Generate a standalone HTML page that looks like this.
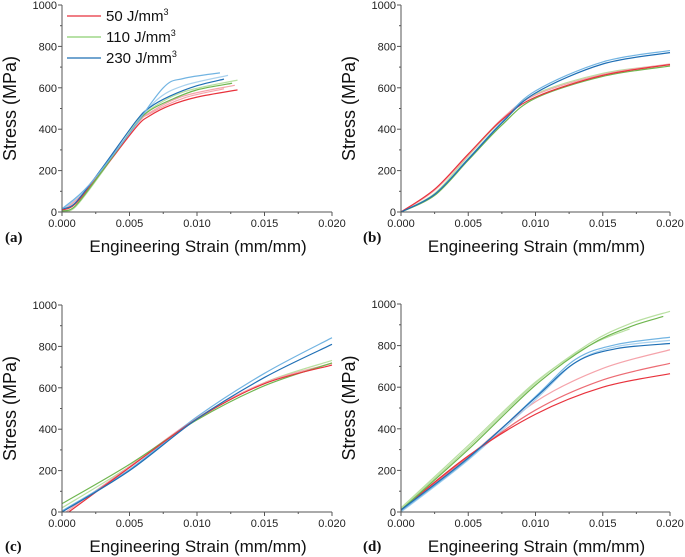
<!DOCTYPE html>
<html><head><meta charset="utf-8"><style>
html,body{margin:0;padding:0;background:#fff;width:685px;height:557px;overflow:hidden}
svg{display:block;font-family:"Liberation Sans",sans-serif}
</style></head><body>
<svg id="fig" width="685" height="557"></svg>
<script>
// ---- data (strain, stress MPa) ----
const xTicks=[0,0.005,0.010,0.015,0.020];
const xTickLabels=["0.000","0.005","0.010","0.015","0.020"];
const yTicks=[0,200,400,600,800,1000];
const yTickLabels=["0","200","400","600","800","1000"];
const legendLabels=["50 J/mm","110 J/mm","230 J/mm"];
const panelLabels=["(a)","(b)","(c)","(d)"];
// panel a
const aRed1=[[0,10],[0.001,40],[0.003,200],[0.0055,410],[0.0065,465],[0.008,515],[0.010,555],[0.013,590]];
const aRed2=[[0,0],[0.002,120],[0.0055,420],[0.0065,480],[0.009,560],[0.0128,612]];
const aRed3=[[0,5],[0.002,130],[0.0055,420],[0.0065,475],[0.009,550],[0.012,595]];
const aGreen1=[[0,5],[0.001,30],[0.003,200],[0.0055,425],[0.0065,490],[0.008,540],[0.010,590],[0.0126,622]];
const aGreen2=[[0,0],[0.001,25],[0.003,195],[0.0055,430],[0.0065,495],[0.009,580],[0.013,637]];
const aBlue1=[[0,15],[0.001,45],[0.003,215],[0.0055,440],[0.0065,505],[0.008,560],[0.010,610],[0.012,642]];
const aBlue2=[[0,15],[0.002,130],[0.005,380],[0.0075,600],[0.009,645],[0.0117,672]];
const aBlue3=[[0,10],[0.002,125],[0.005,380],[0.007,540],[0.009,610],[0.0123,660]];
// panel b
const bRed1=[[0,0],[0.0025,110],[0.005,280],[0.0075,445],[0.010,555],[0.015,660],[0.020,712]];
const bRed2=[[0,0],[0.0025,105],[0.005,275],[0.0075,450],[0.010,565],[0.015,665],[0.020,715]];
const bGreen1=[[0,0],[0.0025,80],[0.005,250],[0.0075,420],[0.010,550],[0.015,655],[0.020,705]];
const bGreen2=[[0,0],[0.0025,90],[0.005,270],[0.0075,445],[0.010,570],[0.015,670],[0.020,712]];
const bBlue1=[[0,0],[0.0025,85],[0.005,255],[0.0075,430],[0.010,575],[0.015,715],[0.020,770]];
const bBlue2=[[0,0],[0.0025,85],[0.005,258],[0.0075,435],[0.010,585],[0.015,725],[0.020,780]];
// panel c
const cRed1=[[0.0005,0],[0.005,215],[0.010,450],[0.015,620],[0.020,710]];
const cRed2=[[0.0003,0],[0.005,220],[0.010,455],[0.015,625],[0.020,718]];
const cGreen1=[[0,40],[0.005,230],[0.010,445],[0.015,610],[0.020,720]];
const cGreen2=[[0,20],[0.005,220],[0.010,450],[0.015,625],[0.020,732]];
const cBlue1=[[0,0],[0.005,200],[0.010,450],[0.015,650],[0.020,810]];
const cBlue2=[[0,5],[0.005,205],[0.010,460],[0.015,670],[0.020,842]];
// panel d
const dRed1=[[0,10],[0.005,270],[0.010,470],[0.015,600],[0.020,665]];
const dRed2=[[0,10],[0.005,265],[0.010,490],[0.015,635],[0.020,715]];
const dRed3=[[0,5],[0.005,265],[0.010,530],[0.015,690],[0.020,780]];
const dGreen1=[[0,10],[0.005,300],[0.010,610],[0.014,800],[0.017,890],[0.0195,940]];
const dGreen2=[[0,15],[0.005,310],[0.010,620],[0.014,810],[0.017,905],[0.020,965]];
const dGreen3=[[0,20],[0.005,320],[0.010,625],[0.014,800],[0.017,880]];
const dBlue1=[[0,10],[0.005,260],[0.010,550],[0.013,720],[0.016,785],[0.020,810]];
const dBlue2=[[0,5],[0.005,255],[0.010,555],[0.013,735],[0.016,805],[0.020,840]];
const dBlue3=[[0,0],[0.005,250],[0.010,540],[0.013,720],[0.016,795],[0.020,825]];

const RED="#e8323c",REDL="#f5a4ab",GRN="#6fb64f",GRNL="#b9e0a2",BLU="#1f6fb5",BLUL="#72b4e2";
const panels=[
 {x0:62,x1:332,yb:212,yt:5,lab:[5,242],curves:[[aRed2,REDL],[aRed3,REDL],[aGreen2,GRNL],[aBlue3,"#a9d1ee"],[aRed1,RED],[aGreen1,GRN],[aBlue1,BLU],[aBlue2,BLUL]]},
 {x0:401,x1:670,yb:212,yt:5,lab:[363,242],curves:[[bGreen2,GRNL],[bRed2,REDL],[bBlue2,BLUL],[bGreen1,GRN],[bRed1,RED],[bBlue1,BLU]]},
 {x0:62,x1:332,yb:512,yt:305,lab:[5,551],curves:[[cGreen2,GRNL],[cRed2,REDL],[cBlue2,BLUL],[cGreen1,GRN],[cRed1,RED],[cBlue1,BLU]]},
 {x0:401,x1:670,yb:512,yt:304,lab:[363,551],curves:[[dRed3,REDL],[dGreen3,GRNL],[dBlue3,"#a9d1ee"],[dRed2,"#ec6c74"],[dGreen2,GRNL],[dBlue2,BLUL],[dRed1,RED],[dGreen1,GRN],[dBlue1,BLU]]}
];
const NS="http://www.w3.org/2000/svg",svg=document.getElementById('fig');
function mk(t,a,p){const e=document.createElementNS(NS,t);for(const k in a)e.setAttribute(k,a[k]);(p||svg).appendChild(e);return e;}
function smooth(pts){let d="M"+pts[0][0]+","+pts[0][1];for(let i=0;i<pts.length-1;i++){const p0=pts[Math.max(0,i-1)],p1=pts[i],p2=pts[i+1],p3=pts[Math.min(pts.length-1,i+2)];
 const c1=[p1[0]+(p2[0]-p0[0])/6,p1[1]+(p2[1]-p0[1])/6],c2=[p2[0]-(p3[0]-p1[0])/6,p2[1]-(p3[1]-p1[1])/6];
 d+=" C"+c1[0]+","+c1[1]+" "+c2[0]+","+c2[1]+" "+p2[0]+","+p2[1];}return d;}
panels.forEach((P,pi)=>{
 const g=mk('g',{});
 
 
 const sx=v=>P.x0+(v-0)/0.02*(P.x1-P.x0), sy=v=>P.yb-v/1000*(P.yb-P.yt);
 P.curves.forEach(([pts,col],ci)=>{
  const p=mk('path',{d:smooth(pts.map(q=>[sx(q[0]),sy(q[1])])),fill:"none",stroke:col,"stroke-width":1.2},g);
  
  
 });
 const ax=mk('path',{d:`M${P.x0},${P.yt}V${P.yb}H${P.x1}`,fill:"none",stroke:"#555","stroke-width":1},g);
 
 
 for(let i=0;i<=8;i++){const v=i*0.0025,x=sx(v);mk('line',{x1:x,x2:x,y1:P.yb,y2:P.yb+(i%2?2:4),stroke:"#555"},g);}
 for(let i=0;i<=10;i++){const v=i*100,y=sy(v);mk('line',{x1:P.x0,x2:P.x0-(i%2?2:4),y1:y,y2:y,stroke:"#555"},g);}
 xTicks.forEach((v,i)=>{const t=mk('text',{x:sx(v),y:P.yb+15,"font-size":11,fill:"#222","text-anchor":"middle"},g);t.textContent=xTickLabels[i];
  });
 yTicks.forEach((v,i)=>{const t=mk('text',{x:P.x0-5,y:sy(v)+4,"font-size":11,fill:"#222","text-anchor":"end"},g);t.textContent=yTickLabels[i];
  });
 const xl=mk('text',{x:(P.x0+P.x1)/2+1,y:P.yb+40,"font-size":17,fill:"#111","text-anchor":"middle"},g);xl.textContent="Engineering Strain (mm/mm)";
 
 const cy=(P.yb+P.yt)/2,yx=P.x0-46;
 const yl=mk('text',{x:yx,y:cy,"font-size":18,fill:"#111","text-anchor":"middle",transform:`rotate(-90 ${yx} ${cy})`},g);yl.textContent="Stress (MPa)";
 
 const pl=mk('text',{x:P.lab[0],y:P.lab[1],"font-size":15,"font-weight":"bold","font-family":"Liberation Serif,serif",fill:"#111"},g);pl.textContent=panelLabels[pi];
 
});
// legend
const lg=mk('g',{});


[RED,"#8ccf70",BLU].forEach((c,i)=>{const y=16+i*21;
 mk('line',{x1:67,x2:101,y1:y,y2:y,stroke:c,"stroke-width":1.3},lg);
 const t=mk('text',{x:106,y:y+5,"font-size":15,fill:"#111"},lg);t.textContent=legendLabels[i];
 const s=mk('tspan',{"font-size":9,dy:-6},t);s.textContent="3";
 
});
</script>
</body></html>
